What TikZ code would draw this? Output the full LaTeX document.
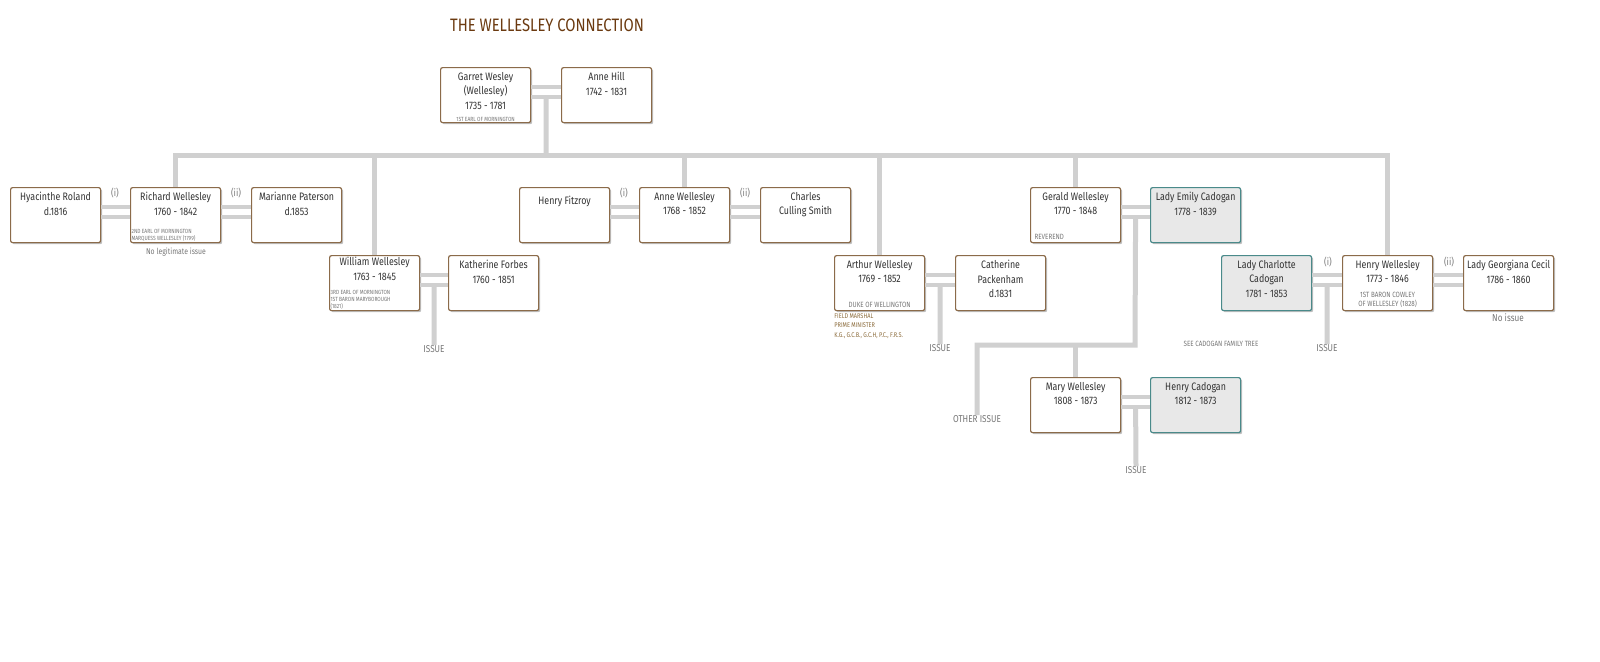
\documentclass[tikz,border=0pt]{standalone}
\usepackage{fontspec}
\setmainfont{Fira Sans}[FakeStretch=0.82]
\usetikzlibrary{calc}
\definecolor{brd}{HTML}{8B6B4A}
\definecolor{teal}{HTML}{4A8A8A}
\definecolor{lgr}{HTML}{D0D0D0}
\definecolor{ttl}{HTML}{6B3A10}
\definecolor{txt}{HTML}{333333}
\definecolor{subc}{HTML}{777777}
\definecolor{brn}{HTML}{8A6A3A}
\begin{document}
\begin{tikzpicture}[x=0.5pt,y=-0.5pt,
  pbox/.style={draw=brd,line width=0.6pt,fill=white,rounded corners=1pt,minimum width=45pt,minimum height=27.5pt,anchor=north west,inner sep=0pt,
    drop shadow/.style={},preaction={fill=black!25,transform canvas={xshift=0.8pt,yshift=-0.8pt}}},
  cbox/.style={pbox,draw=teal,fill=black!9},
  nm/.style={anchor=north,align=center,font=\fontsize{5.4}{7.2}\selectfont,text=txt,inner sep=0pt},
  sub/.style={anchor=south,align=center,font=\fontsize{3}{3.6}\selectfont,text=subc,inner sep=0.6pt},
  lab/.style={font=\fontsize{5}{6}\selectfont,text=subc,inner sep=0pt},
  ln/.style={draw=lgr,line width=2.5pt},
  mln/.style={draw=lgr,line width=2pt}]
\useasboundingbox (0,0) rectangle (1600,661);
\node[font=\fontsize{9}{10}\selectfont,text=ttl] (title) at (547,25) {THE WELLESLEY CONNECTION};
% boxes
\node[pbox] (gar) at (440,67) {}; \node[pbox] (ahill) at (561,67) {};
\node[pbox] (hya) at (10,187) {}; \node[pbox] (ric) at (130,187) {}; \node[pbox] (mar) at (251,187) {};
\node[pbox] (fitz) at (519,187) {}; \node[pbox] (annw) at (639,187) {}; \node[pbox] (cha) at (760,187) {};
\node[pbox] (ger) at (1030,187) {}; \node[cbox] (emi) at (1150,187) {};
\node[pbox] (wil) at (329,255) {}; \node[pbox] (kat) at (448,255) {};
\node[pbox] (art) at (834,255) {}; \node[pbox] (cat) at (955,255) {};
\node[cbox] (chl) at (1221,255) {}; \node[pbox] (hen) at (1342,255) {}; \node[pbox] (geo) at (1463,255) {};
\node[pbox] (mary) at (1030,377) {}; \node[cbox] (hcad) at (1150,377) {};
% texts
\node[nm] at ([yshift=-2.5pt]gar.north) {Garret Wesley\\(Wellesley)\\1735 - 1781};
\node[sub] at (gar.south) {1ST EARL OF MORNINGTON};
\node[nm] at ([yshift=-2.5pt]ahill.north) {Anne Hill\\1742 - 1831};
\node[nm] at ([yshift=-2.5pt]hya.north) {Hyacinthe Roland\\d.1816};
\node[nm] at ([yshift=-2.5pt]ric.north) {Richard Wellesley\\1760 - 1842};
\node[sub,anchor=south west,align=left] at (ric.south west) {2ND EARL OF MORNINGTON\\MARQUESS WELLESLEY (1799)};
\node[nm] at ([yshift=-2.5pt]mar.north) {Marianne Paterson\\d.1853};
\node[nm] at ([yshift=-4.5pt]fitz.north) {Henry Fitzroy};
\node[nm] at ([yshift=-2.5pt]annw.north) {Anne Wellesley\\1768 - 1852};
\node[nm] at ([yshift=-2.5pt]cha.north) {Charles\\Culling Smith};
\node[nm] at ([yshift=-2.5pt]ger.north) {Gerald Wellesley\\1770 - 1848};
\node[sub,anchor=south west,font=\fontsize{3.8}{4.5}\selectfont] at ([xshift=1.5pt,yshift=1pt]ger.south west) {REVEREND};
\node[nm] at ([yshift=-2.5pt]emi.north) {Lady Emily Cadogan\\1778 - 1839};
\node[nm] at ([yshift=-1pt]wil.north) {William Wellesley\\1763 - 1845};
\node[sub,anchor=south west,align=left] at (wil.south west) {3RD EARL OF MORNINGTON\\1ST BARON MARYBOROUGH\\(1821)};
\node[nm] at ([yshift=-2.5pt]kat.north) {Katherine Forbes\\1760 - 1851};
\node[nm] at ([yshift=-2.5pt]art.north) {Arthur Wellesley\\1769 - 1852};
\node[sub,font=\fontsize{3.8}{4.5}\selectfont] at ([yshift=1pt]art.south) {DUKE OF WELLINGTON};
\node[nm] at ([yshift=-2.5pt]cat.north) {Catherine\\Packenham\\d.1831};
\node[nm] at ([yshift=-2.5pt]chl.north) {Lady Charlotte\\Cadogan\\1781 - 1853};
\node[nm] at ([yshift=-2.5pt]hen.north) {Henry Wellesley\\1773 - 1846};
\node[sub,font=\fontsize{3.8}{4.5}\selectfont] at ([yshift=1pt]hen.south) {1ST BARON COWLEY\\OF WELLESLEY (1828)};
\node[nm] at ([yshift=-2.5pt]geo.north) {Lady Georgiana Cecil\\1786 - 1860};
\node[nm] at ([yshift=-2.5pt]mary.north) {Mary Wellesley\\1808 - 1873};
\node[nm] at ([yshift=-2.5pt]hcad.north) {Henry Cadogan\\1812 - 1873};
% notes
\node[lab,font=\fontsize{4.2}{5}\selectfont] (nli) at (176,252) {No legitimate issue};
\node[lab] (noi) at (1508,318) {No issue};
\node[lab,font=\fontsize{3.8}{4.5}\selectfont] (see) at (1221,344) {SEE CADOGAN FAMILY TREE};
\node[anchor=north west,align=left,font=\fontsize{3.4}{4.8}\selectfont,text=brn,inner sep=0pt] (fm) at (834,313) {FIELD MARSHAL\\PRIME MINISTER\\K.G., G.C.B., G.C.H, P.C., F.R.S.};
\node[lab] (l1) at (115,193) {(i)}; \node[lab] (l2) at (236,193) {(ii)};
\node[lab] (l3) at (624,193) {(i)}; \node[lab] (l4) at (745,193) {(ii)};
\node[lab] (l5) at (1328,262) {(i)}; \node[lab] (l6) at (1449,262) {(ii)};
% issue ends
\node[lab] (is1) at (434,349) {ISSUE};
\node[lab] (is2) at (940,348) {ISSUE};
\node[lab] (is3) at (1327,348) {ISSUE};
\node[lab] (is4) at (1136,470) {ISSUE};
\node[lab] (oth) at (977,419) {OTHER ISSUE};
\coordinate (bus) at (546,155);
\coordinate (gbend) at (1135,345);
\coordinate (obend) at (977,345);
% marriages
\foreach \a/\b in {gar/ahill,hya/ric,ric/mar,fitz/annw,annw/cha,ger/emi,wil/kat,art/cat,chl/hen,hen/geo,mary/hcad}{
  \draw[mln] ([yshift=-10pt]\a.north east) -- ([yshift=-10pt]\b.north west);
  \draw[mln] ([yshift=-15pt]\a.north east) -- ([yshift=-15pt]\b.north west);
}
% descent
\draw[ln] ($([yshift=-15pt]gar.north east)!0.5!([yshift=-15pt]ahill.north west)$) -- (bus);
\draw[ln] (ric.north) |- (bus);
\draw[ln] (wil.north) |- (bus);
\draw[ln] (annw.north) |- (bus);
\draw[ln] (art.north) |- (bus);
\draw[ln] (ger.north) |- (bus);
\draw[ln] (hen.north) |- (bus);
\draw[ln] ($([yshift=-15pt]wil.north east)!0.5!([yshift=-15pt]kat.north west)$) -- (is1.north);
\draw[ln] ($([yshift=-15pt]art.north east)!0.5!([yshift=-15pt]cat.north west)$) -- (is2.north);
\draw[ln] ($([yshift=-15pt]chl.north east)!0.5!([yshift=-15pt]hen.north west)$) -- (is3.north);
\draw[ln] ($([yshift=-15pt]mary.north east)!0.5!([yshift=-15pt]hcad.north west)$) -- (is4.north);
\draw[ln] ($([yshift=-15pt]ger.north east)!0.5!([yshift=-15pt]emi.north west)$) -- (gbend) -- (obend) -- (oth.north);
\draw[ln] (mary.north) -- (mary.north |- gbend);
\end{tikzpicture}
\end{document}
